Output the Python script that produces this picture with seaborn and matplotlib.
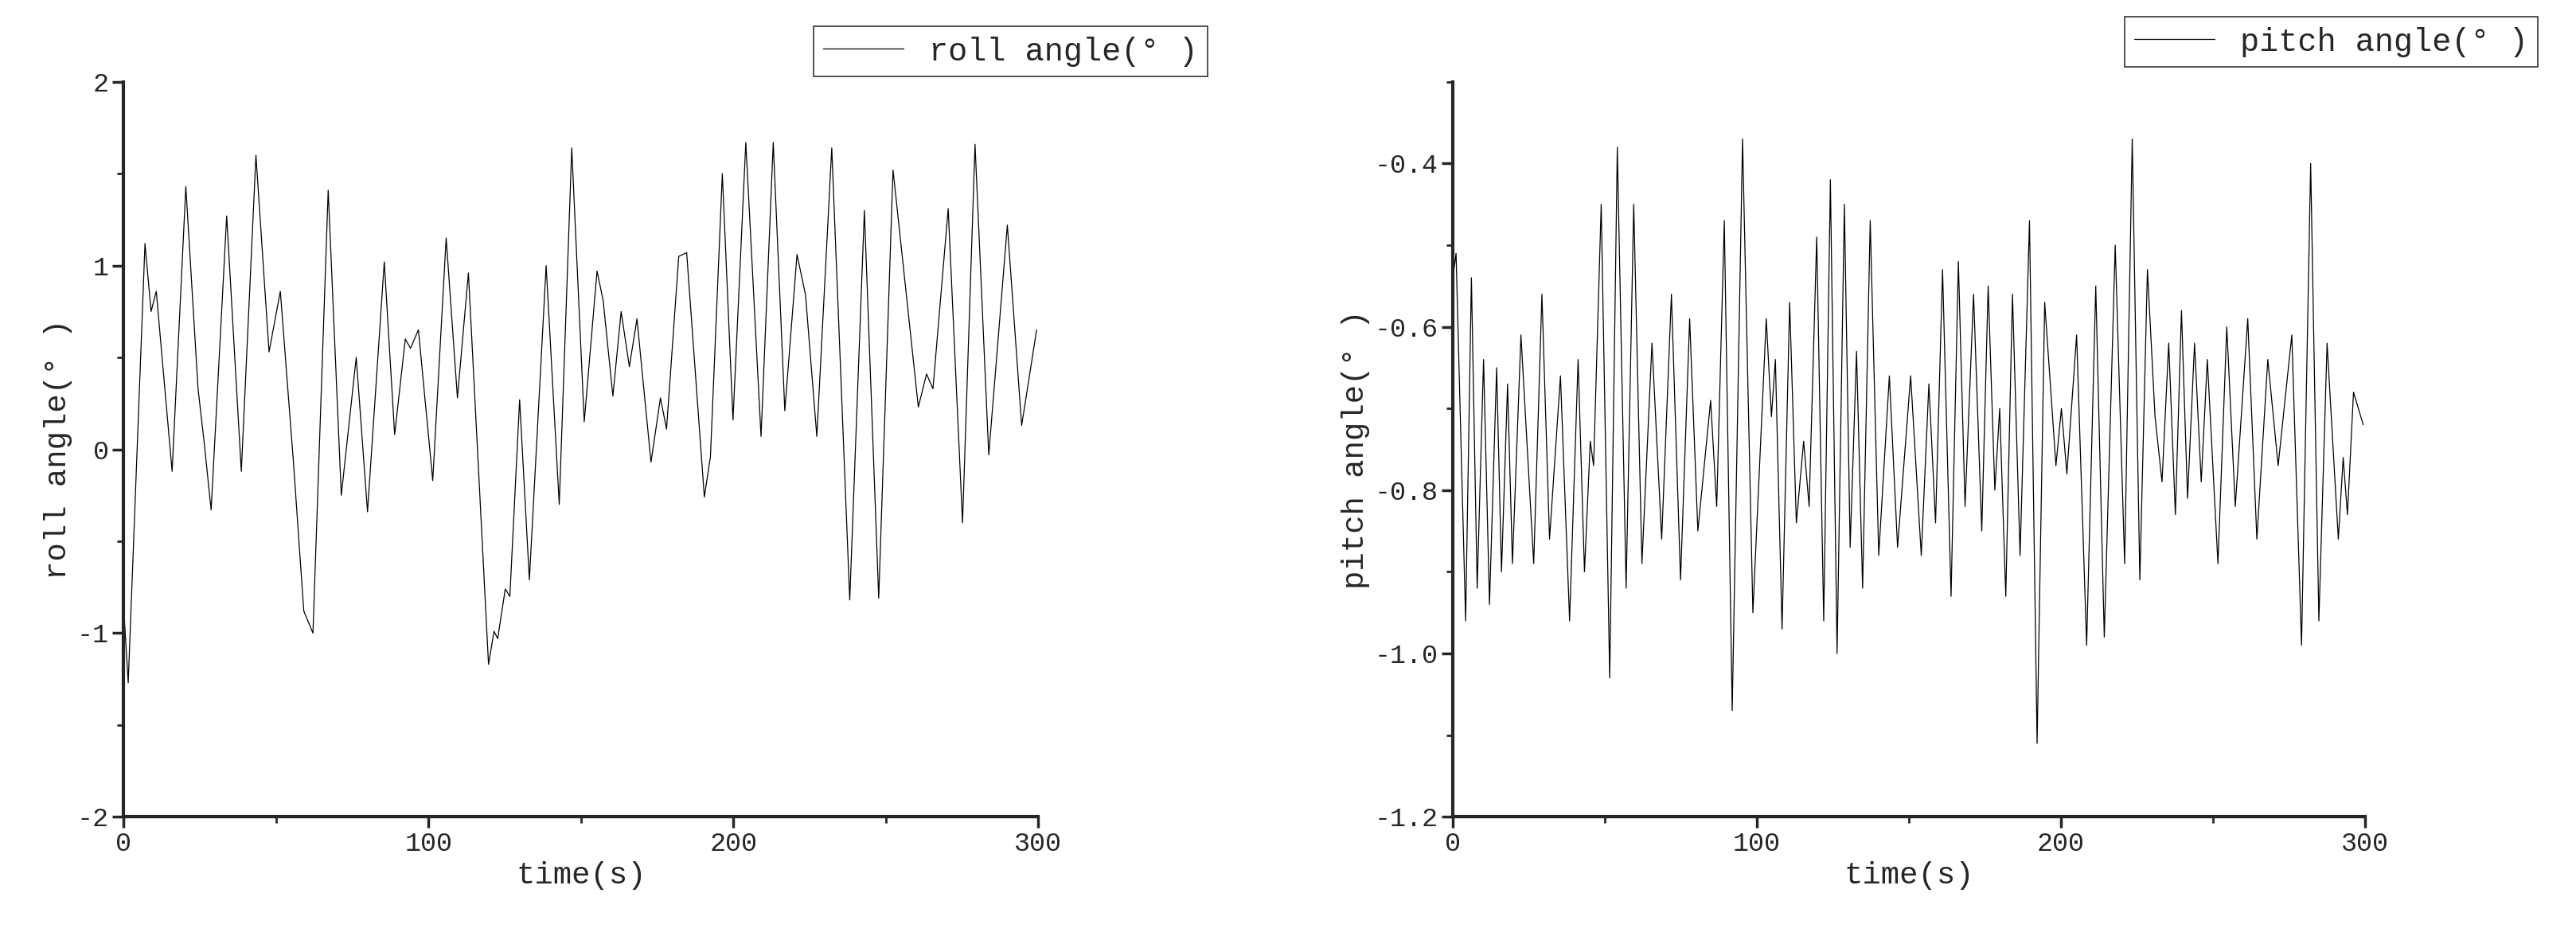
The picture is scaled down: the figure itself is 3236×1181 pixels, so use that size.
import numpy as np
import pandas as pd
import matplotlib
matplotlib.use("Agg")
import matplotlib.pyplot as plt
import seaborn as sns
from matplotlib.ticker import MultipleLocator, FormatStrFormatter

# ------------------------------------------------------------------
# Data (turning points)
# ------------------------------------------------------------------
roll_t = [0, 1.5, 7, 9, 10.7, 15.9, 20.4, 24.4, 26.4, 28.7, 33.8, 38.6, 43.4, 47.7,
          51.4, 55.7, 59.1, 62.1, 67.1, 71.4, 76.3, 80, 85.5, 88.9, 92.4, 94.1,
          96.7, 101.4, 105.8, 109.5, 113.1, 119.7, 121.5, 122.7, 125.2, 126.7,
          129.9, 133.1, 138.6, 142.9, 147, 151.1, 155.3, 157.3, 160.5, 163.2,
          165.9, 168.4, 173, 176.1, 178.1, 182.1, 184.7, 190.5, 192.5, 196.4,
          199.9, 204.1, 209.1, 213.1, 216.9, 220.9, 223.7, 227.4, 232.3, 238.2,
          243, 247.7, 252.4, 260.7, 263.4, 265.5, 270.5, 275.2, 279.3, 283.8,
          289.9, 294.6, 299.5]
roll_v = [-0.86, -1.27, 1.12, 0.75, 0.86, -0.12, 1.43, 0.33, 0.04, -0.33, 1.27, -0.12,
          1.6, 0.53, 0.86, -0.07, -0.88, -1.0, 1.41, -0.25, 0.5, -0.34, 1.02, 0.08,
          0.6, 0.55, 0.65, -0.17, 1.15, 0.28, 0.96, -1.17, -0.99, -1.03, -0.76,
          -0.8, 0.27, -0.71, 1.0, -0.3, 1.64, 0.15, 0.97, 0.81, 0.29, 0.75, 0.45,
          0.71, -0.07, 0.28, 0.11, 1.05, 1.07, -0.26, -0.04, 1.5, 0.16, 1.67, 0.07,
          1.67, 0.21, 1.06, 0.84, 0.07, 1.64, -0.82, 1.3, -0.81, 1.52, 0.23, 0.41,
          0.33, 1.31, -0.4, 1.66, -0.03, 1.22, 0.13, 0.65]

pitch_t = [0, 1.05, 4.2, 6.1, 8, 10.1, 12.05, 14.4, 16, 18, 19.6, 22.4, 26.6, 29.3,
           31.8, 35.4, 38.4, 41.2, 43.3, 45.2, 46.3, 48.8, 51.6, 54.1, 57, 59.5,
           62.2, 65.5, 68.7, 71.9, 74.9, 77.9, 80.6, 84.8, 86.8, 89.3, 91.9, 95.3,
           98.7, 103.1, 104.8, 106.1, 108.3, 110.8, 113, 115.4, 117.2, 119.7, 122,
           124.2, 126.4, 128.8, 130.7, 132.8, 134.8, 137.3, 140.1, 143.6, 146.3,
           150.6, 154.1, 156.6, 158.8, 161.1, 163.9, 166.3, 168.5, 171.3, 174,
           176.1, 178.3, 179.9, 181.9, 184.1, 186.6, 189.7, 192.2, 194.7, 198.4,
           200.2, 202, 205.2, 208.5, 211.5, 214.3, 217.9, 221, 223.5, 226, 228.5,
           231, 233.3, 235.5, 237.7, 239.7, 241.7, 244, 246.2, 248.2, 251.7, 254.6,
           257.4, 261.5, 264.5, 268.1, 271.5, 276, 279.2, 282.2, 284.9, 287.6,
           291.3, 292.9, 294.3, 296.3, 299.5]
pitch_v = [-0.54, -0.51, -0.96, -0.54, -0.92, -0.64, -0.94, -0.65, -0.9, -0.67, -0.89,
           -0.61, -0.89, -0.56, -0.86, -0.66, -0.96, -0.64, -0.9, -0.74, -0.77,
           -0.45, -1.03, -0.38, -0.92, -0.45, -0.89, -0.62, -0.86, -0.56, -0.91,
           -0.59, -0.85, -0.69, -0.82, -0.47, -1.07, -0.37, -0.95, -0.59, -0.71,
           -0.64, -0.97, -0.57, -0.84, -0.74, -0.82, -0.49, -0.96, -0.42, -1.0,
           -0.45, -0.87, -0.63, -0.92, -0.47, -0.88, -0.66, -0.87, -0.66, -0.88,
           -0.67, -0.84, -0.53, -0.93, -0.52, -0.82, -0.56, -0.85, -0.55, -0.8,
           -0.7, -0.93, -0.56, -0.88, -0.47, -1.11, -0.57, -0.77, -0.7, -0.78,
           -0.61, -0.99, -0.55, -0.98, -0.5, -0.89, -0.37, -0.91, -0.53, -0.71,
           -0.79, -0.62, -0.83, -0.58, -0.81, -0.62, -0.79, -0.64, -0.89, -0.6,
           -0.82, -0.59, -0.86, -0.64, -0.77, -0.61, -0.99, -0.4, -0.96, -0.62,
           -0.86, -0.76, -0.83, -0.68, -0.72]

# ------------------------------------------------------------------
# Plot
# ------------------------------------------------------------------
sns.set_style("ticks")
plt.rcParams['font.family'] = ['Liberation Mono', 'DejaVu Sans Mono']
plt.rcParams['axes.unicode_minus'] = False

fig = plt.figure(figsize=(32.36, 11.81), dpi=100)
ax1 = fig.add_axes([0.048, 0.131, 0.355, 0.782])
ax2 = fig.add_axes([0.564, 0.131, 0.354, 0.782])

panels = [
    (ax1, roll_t, roll_v, "roll angle(° )", (-2, 2), 1, 0.5, "%d",
     (1.185, 1.075)),
    (ax2, pitch_t, pitch_v, "pitch angle(° )", (-1.2, -0.3), 0.2, 0.1, "%.1f",
     (1.19, 1.088)),
]

for ax, t, v, name, ylim, ymaj, ymin, fmt, leg_anchor in panels:
    df = pd.DataFrame({"time": t, "value": v})
    sns.lineplot(data=df, x="time", y="value", ax=ax, color="black",
                 linewidth=0.9, label=name)
    ax.set_xlim(0, 300)
    ax.set_ylim(*ylim)
    ax.xaxis.set_major_locator(MultipleLocator(100))
    ax.xaxis.set_minor_locator(MultipleLocator(50))
    ax.yaxis.set_major_locator(MultipleLocator(ymaj))
    ax.yaxis.set_minor_locator(MultipleLocator(ymin))
    ax.yaxis.set_major_formatter(FormatStrFormatter(fmt))
    ax.tick_params(which="major", direction="out", length=10, width=2.5,
                   labelsize=24)
    ax.tick_params(which="minor", direction="out", length=6, width=2)
    for s in ["left", "bottom"]:
        ax.spines[s].set_linewidth(3)
    sns.despine(ax=ax)
    ax.set_xlabel("time(s)", fontsize=28)
    ax.set_ylabel(name, fontsize=28)
    leg = ax.legend(loc="upper right", bbox_to_anchor=leg_anchor, fontsize=29,
                    frameon=True, fancybox=False, handlelength=2.5,
                    borderpad=0.3, borderaxespad=0)
    leg.get_frame().set_edgecolor("black")
    leg.get_frame().set_linewidth(1.2)

fig.savefig("out.png", dpi=100, facecolor="white")
